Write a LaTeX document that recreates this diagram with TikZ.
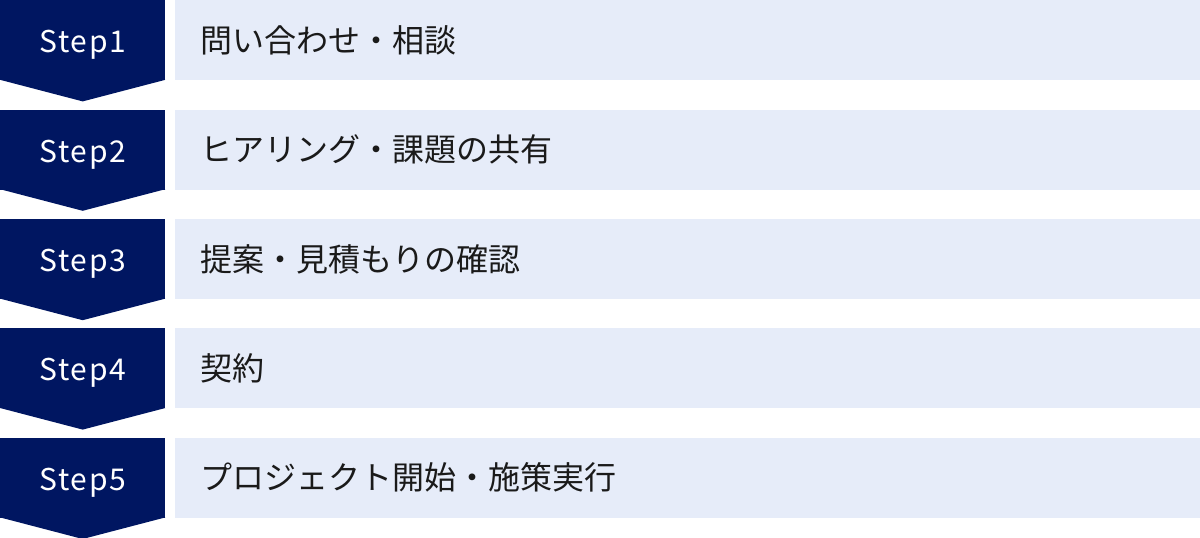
\documentclass[tikz,border=0pt]{standalone}
\usepackage{fontspec}
\setmainfont{Noto Sans CJK JP}
\usetikzlibrary{positioning}

\definecolor{stepnavy}{HTML}{001661}
\definecolor{itembg}{HTML}{E6ECF9}
\definecolor{itemtext}{HTML}{1A1A1A}

\begin{document}
\begin{tikzpicture}[x=1pt, y=-1pt, node distance=29pt and 9pt,
		stepbox/.style={fill=stepnavy, text=white, minimum width=165pt, minimum height=80pt,
			inner sep=0pt, anchor=north west, text height=25pt, text depth=0pt,
			font=\fontsize{30}{34}\selectfont\addfontfeatures{LetterSpace=6}},
		itembox/.style={fill=itembg, text=itemtext, minimum width=1026pt, minimum height=80pt,
			text width=974pt, inner xsep=26pt, inner ysep=0pt, align=left,
			text height=24pt, text depth=0pt, font=\fontsize{32}{36}\selectfont},
		tip/.style={fill=stepnavy}]
		\useasboundingbox (0,0) rectangle (1200,538);

		% Steps
		\node[stepbox] (s1) at (0,0) {Step1};
		\node[stepbox, below=of s1] (s2) {Step2};
		\node[stepbox, below=of s2] (s3) {Step3};
		\node[stepbox, below=of s3] (s4) {Step4};
		\node[stepbox, below=of s4] (s5) {Step5};

		% Arrow tips
		\fill[tip] ([yshift=.6pt]s1.south west) -- ([yshift=.6pt]s1.south east) -- ([yshift=-21pt]s1.south) -- cycle;
		\fill[tip] ([yshift=.6pt]s2.south west) -- ([yshift=.6pt]s2.south east) -- ([yshift=-21pt]s2.south) -- cycle;
		\fill[tip] ([yshift=.6pt]s3.south west) -- ([yshift=.6pt]s3.south east) -- ([yshift=-21pt]s3.south) -- cycle;
		\fill[tip] ([yshift=.6pt]s4.south west) -- ([yshift=.6pt]s4.south east) -- ([yshift=-21pt]s4.south) -- cycle;
		\fill[tip] ([yshift=.6pt]s5.south west) -- ([yshift=.6pt]s5.south east) -- ([yshift=-21pt]s5.south) -- cycle;

		% Items
		\node[itembox, right=of s1] (t1) {問い合わせ・相談};
		\node[itembox, right=of s2] (t2) {ヒアリング・課題の共有};
		\node[itembox, right=of s3] (t3) {提案・見積もりの確認};
		\node[itembox, right=of s4] (t4) {契約};
		\node[itembox, right=of s5] (t5) {プロジェクト開始・施策実行};
	\end{tikzpicture}
\end{document}
